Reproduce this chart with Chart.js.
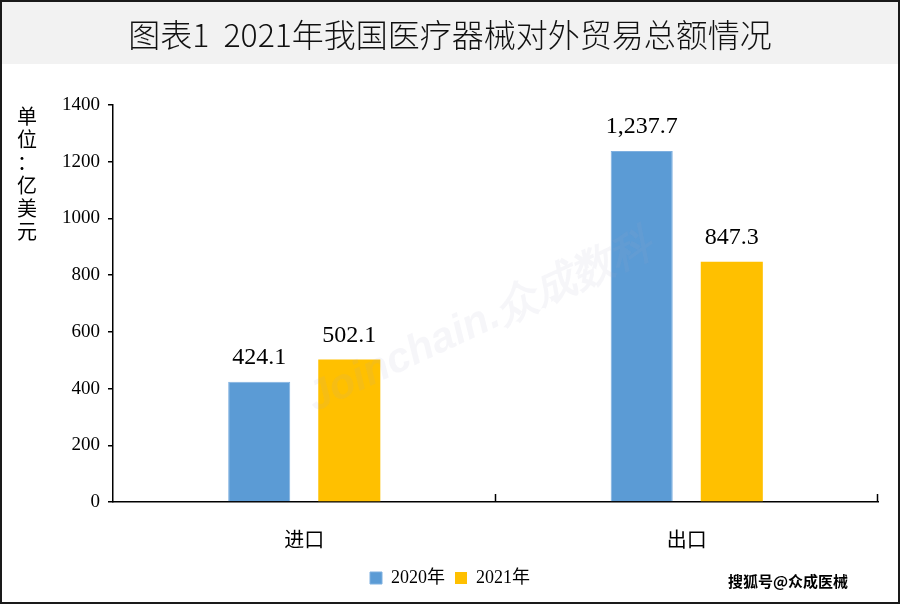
<!DOCTYPE html>
<html><head><meta charset="utf-8">
<script src="https://cdn.jsdelivr.net/npm/chart.js@4"></script>
<style>html,body{margin:0;padding:0;background:#fff}#wrap{width:900px;height:604px}</style>
</head><body><div id="wrap"><canvas id="c" width="900" height="604"></canvas></div>
<script>
const categories = ['进口', '出口'];
const seriesNames = ['2020年', '2021年'];
const values2020 = [424.1, 1237.7];
const values2021 = [502.1, 847.3];
const yTicks = [0, 200, 400, 600, 800, 1000, 1200, 1400];
const titleText = '图表1  2021年我国医疗器械对外贸易总额情况';
const unitText = ['单', '位', '：', '亿', '美', '元'];
const sourceText = '搜狐号@众成医械';

const fmt = v => v.toLocaleString('en-US', {minimumFractionDigits: 1, maximumFractionDigits: 1});

const decor = {
  id: 'decor',
  beforeDraw(chart) {
    const ctx = chart.ctx;
    ctx.save();
    ctx.fillStyle = '#ffffff';
    ctx.fillRect(0, 0, chart.width, chart.height);
    ctx.fillStyle = '#f2f2f2';
    ctx.fillRect(0, 0, chart.width, 64);
    ctx.restore();
  },
  afterDatasetsDraw(chart) {
    const ctx = chart.ctx;
    ctx.save();
    ctx.fillStyle = '#000';
    ctx.font = '24px "Liberation Serif", "Times New Roman", serif';
    ctx.textAlign = 'center';
    ctx.textBaseline = 'alphabetic';
    chart.data.datasets.forEach((ds, i) => {
      chart.getDatasetMeta(i).data.forEach((bar, j) => {
        ctx.fillText(fmt(ds.data[j]), bar.x, bar.y - 18);
      });
    });
    ctx.restore();
  },
  afterDraw(chart) {
    const ctx = chart.ctx;
    const ca = chart.chartArea;
    ctx.save();
    ctx.strokeStyle = '#000';
    ctx.lineWidth = 1.5;
    const n = categories.length;
    const step = (ca.right - ca.left) / n;
    for (let i = 1; i <= n; i++) {
      const x = Math.round(ca.left + step * i) - 0.5;
      ctx.beginPath();
      ctx.moveTo(x, ca.bottom);
      ctx.lineTo(x, ca.bottom - 8);
      ctx.stroke();
    }
    ctx.fillStyle = '#000';
    ctx.font = '20px "Noto Sans CJK SC", sans-serif';
    ctx.textAlign = 'center';
    ctx.textBaseline = 'middle';
    unitText.forEach((ch, i) => ctx.fillText(ch, 27, 116 + i * 23));
    ctx.font = 'bold 15px "Noto Sans CJK SC", sans-serif';
    ctx.textAlign = 'right';
    ctx.fillText(sourceText, 848, 581);
    ctx.translate(480, 322);
    ctx.rotate(-25 * Math.PI / 180);
    ctx.fillStyle = 'rgba(170,170,195,0.10)';
    ctx.font = 'bold italic 42px "Liberation Sans", sans-serif';
    ctx.textAlign = 'center';
    ctx.fillText('Joinchain.众成数科', 0, 0);
    ctx.restore();
    ctx.save();
    ctx.strokeStyle = '#1a1a1a';
    ctx.lineWidth = 2;
    ctx.strokeRect(1, 1, chart.width - 2, chart.height - 2);
    ctx.restore();
  }
};

new Chart(document.getElementById('c'), {
  type: 'bar',
  data: {
    labels: categories,
    datasets: [
      {label: seriesNames[0], data: values2020, backgroundColor: '#5b9bd5', borderColor: '#7fb0e0', borderWidth: 1,
       categoryPercentage: 0.471, barPercentage: 0.689},
      {label: seriesNames[1], data: values2021, backgroundColor: '#ffc000', borderWidth: 0,
       categoryPercentage: 0.471, barPercentage: 0.689}
    ]
  },
  options: {
    responsive: false,
    animation: false,
    layout: {padding: {left: 0, right: 0, top: 0, bottom: 7}},
    plugins: {
      title: {
        display: true, text: titleText, color: '#111',
        font: {family: '"Noto Sans CJK SC", sans-serif', size: 32, weight: 300, lineHeight: 1.2},
        padding: {top: 16, bottom: 50.6}
      },
      legend: {
        position: 'bottom',
        labels: {
          boxWidth: 12, boxHeight: 12, padding: 10, color: '#000',
          font: {family: '"Liberation Serif", "Noto Sans CJK SC", serif', size: 18}
        }
      },
      tooltip: {enabled: false}
    },
    scales: {
      x: {
        grid: {display: false},
        border: {display: true, color: '#000', width: 1.5},
        ticks: {color: '#000', padding: 17, font: {family: '"Noto Sans CJK SC", sans-serif', size: 20}},
        afterFit(s) { s.height = 57; }
      },
      y: {
        min: 0, max: 1400,
        afterBuildTicks(s) { s.ticks = yTicks.map(v => ({value: v})); },
        grid: {drawOnChartArea: false, tickLength: 5, color: '#000', lineWidth: 1.5},
        border: {display: true, color: '#000', width: 1.5},
        ticks: {color: '#000', padding: 8, callback: v => String(v),
                font: {family: '"Liberation Serif", "Times New Roman", serif', size: 19}},
        afterFit(s) { s.width = 113; }
      },
      yPad: {
        position: 'right', min: 0, max: 1,
        grid: {display: false}, border: {display: false}, ticks: {display: false},
        afterFit(s) { s.width = 22; }
      }
    }
  },
  plugins: [decor]
});
</script>
</body></html>
